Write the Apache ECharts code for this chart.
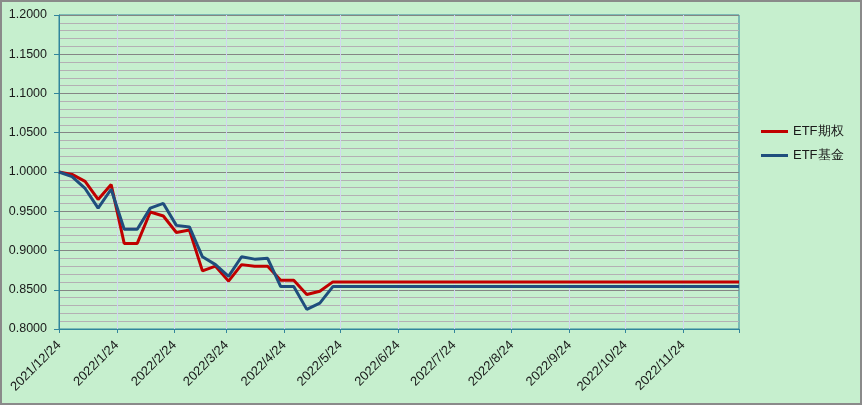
<!DOCTYPE html>
<html>
<head>
<meta charset="utf-8">
<script src="https://cdn.jsdelivr.net/npm/echarts@6/dist/echarts.min.js"></script>
<style>
html,body{margin:0;padding:0;background:#c6efce;}
#wrap{position:relative;width:862px;height:405px;}
#chart{position:absolute;left:0;top:0;width:862px;height:405px;}
#frame{position:absolute;left:0;top:0;width:862px;height:405px;box-sizing:border-box;border:2px solid #8a8a8a;pointer-events:none;}
</style>
</head>
<body>
<div id="wrap"><div id="chart"></div><div id="frame"></div></div>
<script>
// Axis range (dates)
const axisStart = '2021/12/24';
const axisEnd = '2022/12/24';
// Observation dates
const obsDates = ['2021/12/24','2021/12/31','2022/1/7','2022/1/14','2022/1/21','2022/1/28','2022/2/4','2022/2/11','2022/2/18','2022/2/25','2022/3/4','2022/3/11','2022/3/18','2022/3/25','2022/4/1','2022/4/8','2022/4/15','2022/4/22','2022/4/29','2022/5/6','2022/5/13','2022/5/20','2022/12/24'];
// Series values
const etfOption = [1.000,0.997,0.988,0.965,0.984,0.909,0.909,0.949,0.944,0.923,0.926,0.874,0.880,0.861,0.882,0.880,0.880,0.862,0.862,0.844,0.848,0.860,0.860];
const etfFund   = [1.000,0.994,0.979,0.954,0.978,0.927,0.927,0.954,0.960,0.932,0.930,0.892,0.882,0.867,0.892,0.889,0.890,0.854,0.854,0.825,0.833,0.854,0.854];
const seriesNames = ['ETF期权','ETF基金'];

function fmt(d){return d.getFullYear()+'/'+(d.getMonth()+1)+'/'+d.getDate();}
function parse(s){const p=s.split('/').map(Number);return new Date(p[0],p[1]-1,p[2]);}
const categories=[];
for(let d=parse(axisStart);d<=parse(axisEnd);d=new Date(d.getFullYear(),d.getMonth(),d.getDate()+1)){categories.push(fmt(d));}
const lastIdx=categories.length-1;
const isMonthTick=(i,v)=>String(v).split('/')[2]==='24';

const teal='#31859c';
const font='"Liberation Sans", Arial, sans-serif';
const chart=echarts.init(document.getElementById('chart'),null,{renderer:'canvas'});
chart.setOption({
  animation:false,
  backgroundColor:'#c6efce',
  grid:{left:59,right:123,top:15,bottom:76,show:true,borderColor:teal,borderWidth:1,backgroundColor:'transparent'},
  legend:{
    orient:'vertical',left:756,top:120,itemWidth:27,itemHeight:3,itemGap:11,icon:'rect',
    textStyle:{fontFamily:font,fontSize:13,color:'#1a1a1a'},
    data:seriesNames
  },
  xAxis:{
    type:'category',data:categories,boundaryGap:false,
    axisLine:{lineStyle:{color:teal,width:1}},
    axisTick:{show:true,length:4,interval:(i,v)=>isMonthTick(i,v)||i===lastIdx,lineStyle:{color:teal}},
    axisLabel:{interval:(i,v)=>isMonthTick(i,v)&&i!==lastIdx,rotate:45,margin:14,fontFamily:font,fontSize:13,color:'#1a1a1a'},
    splitLine:{show:true,interval:(i,v)=>isMonthTick(i,v)&&i!==0&&i!==lastIdx,lineStyle:{color:'#d2d6f0',width:1}}
  },
  yAxis:{
    type:'value',min:0.8,max:1.2,interval:0.05,
    axisLine:{show:true,lineStyle:{color:teal,width:1}},
    axisTick:{show:true,length:5,lineStyle:{color:teal}},
    axisLabel:{margin:12,fontFamily:font,fontSize:12.5,color:'#1a1a1a',formatter:v=>v.toFixed(4)},
    splitLine:{show:true,lineStyle:{color:'#858585',width:1}},
    minorTick:{show:false,splitNumber:5},
    minorSplitLine:{show:true,lineStyle:{color:'#b4b0b4',width:1}}
  },
  series:[
    {name:seriesNames[0],type:'line',showSymbol:false,symbol:'none',data:obsDates.map((d,i)=>[d,etfOption[i]]),lineStyle:{color:'#c00000',width:3},itemStyle:{color:'#c00000'}},
    {name:seriesNames[1],type:'line',showSymbol:false,symbol:'none',data:obsDates.map((d,i)=>[d,etfFund[i]]),lineStyle:{color:'#1f4e7d',width:3},itemStyle:{color:'#1f4e7d'}}
  ]
});
</script>
</body>
</html>
